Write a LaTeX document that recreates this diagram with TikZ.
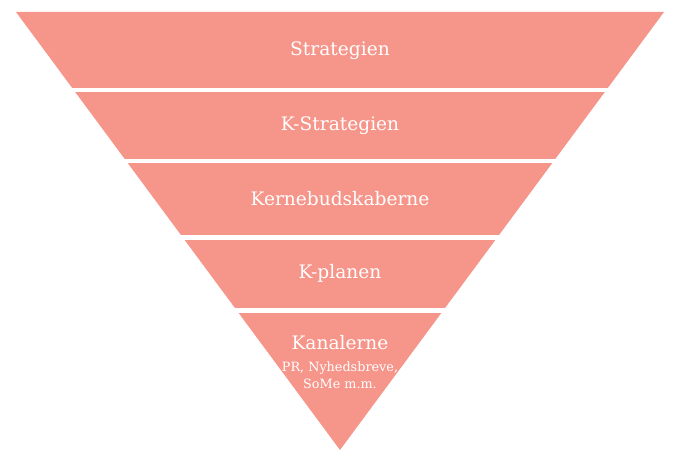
\documentclass[tikz,border=0pt]{standalone}
\usepackage{fontspec}
\setmainfont{DejaVu Serif}
\usetikzlibrary{positioning}

\definecolor{salmon}{HTML}{F6958A}

\tikzset{
  funnel/.style={fill=salmon},
  gap/.style={draw=white,line width=4.2pt},
  bandlabel/.style={text=white,inner sep=0pt,font=\fontsize{18.6}{22}\selectfont},
  sublabel/.style={text=white,inner sep=0pt,align=center,font=\fontsize{12.8}{17}\selectfont}
}

\begin{document}
\begin{tikzpicture}[line cap=butt,line join=miter,x=1pt,y=-1pt]

\def\tl{16} %funnel left top x
\def\tr{664} %funnel right top x
\def\ty{12} %funnel top y
\def\ax{340} %apex x
\def\ay{450} %apex y

\useasboundingbox (0,0) rectangle (680,457);

%funnel
\fill[funnel] (\tl,\ty) -- (\tr,\ty) -- (\ax,\ay) -- cycle;

%gaps between the bands
\foreach \g in {90,161,237.5,310.5}
  \draw[gap] (0,\g) -- (680,\g);

%labels
\node[bandlabel] (strat) at (\ax,51) {Strategien};
\node[bandlabel] (kstrat) at (\ax,126) {K-Strategien};
\node[bandlabel] (kerne) at (\ax,199) {Kernebudskaberne};
\node[bandlabel] (kplan) at (\ax,273) {K-planen};
\node[bandlabel] (kanal) at (\ax,343) {Kanalerne};
\node[sublabel, below=11pt of kanal] (kanalsub) {PR, Nyhedsbreve,\\SoMe m.m.};

\end{tikzpicture}
\end{document}
